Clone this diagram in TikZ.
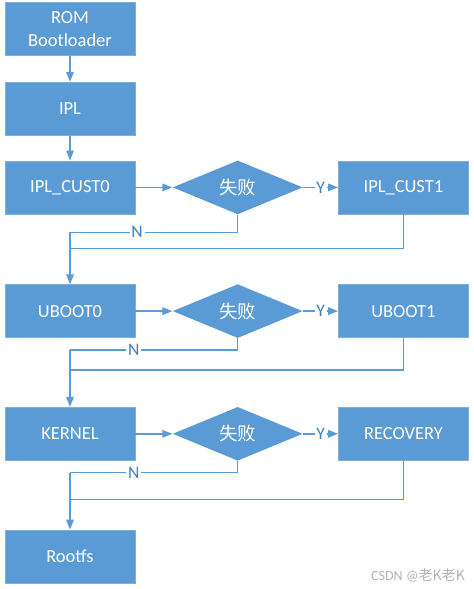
\documentclass[tikz,border=0pt]{standalone}
\usepackage{fontspec}
\setmainfont{Carlito}
\newfontfamily\cjk{Noto Sans CJK SC}
\usetikzlibrary{positioning,arrows.meta,shapes.geometric,calc}
\definecolor{boxblue}{HTML}{5B9BD5}
\definecolor{lblblue}{HTML}{3F7FBF}
\tikzset{
  blk/.style={draw=boxblue!80!white,fill=boxblue,text=white,minimum width=2.6cm,minimum height=1.06cm,align=center,inner sep=2pt,font=\fontsize{10.5}{13}\selectfont},
  dia/.style={diamond,fill=boxblue,text=white,minimum width=2.6cm,minimum height=1.04cm,inner sep=0pt,font=\cjk\fontsize{10.5}{13}\selectfont},
  line/.style={draw=boxblue,line width=0.8pt},
  arr/.style={line,-{Triangle[length=2mm,width=1.5mm]}},
  lbl/.style={fill=white,inner sep=1pt,text=lblblue,font=\fontsize{10}{12}\selectfont},
}
\begin{document}
\begin{tikzpicture}
\useasboundingbox (0,0) rectangle (9.48,-11.78);
\node[blk] (rom) at (1.4,-0.58) {ROM\\Bootloader};
\node[blk, below=5.2mm of rom] (ipl) {IPL};
\node[blk, below=5mm of ipl] (cust0) {IPL\_CUST0};
\node[dia, right=7.4mm of cust0] (fail1) {失败};
\node[blk, right=7mm of fail1] (cust1) {IPL\_CUST1};
\node[blk, below=14mm of cust0] (uboot0) {UBOOT0};
\node[dia, right=7.4mm of uboot0] (fail2) {失败};
\node[blk, right=7mm of fail2] (uboot1) {UBOOT1};
\node[blk, below=13.8mm of uboot0] (kernel) {KERNEL};
\node[dia, right=7.4mm of kernel] (fail3) {失败};
\node[blk, right=7mm of fail3] (recovery) {RECOVERY};
\node[blk, below=13.8mm of kernel] (rootfs) {Rootfs};
\node[text=gray!60, font=\fontsize{8}{9}\selectfont] (mark) at (8.36,-11.5) {CSDN @{\cjk 老K老K}};

\coordinate (n1) at ($(cust0.south)+(0,-0.36)$);
\coordinate (m1) at ($(cust0.south)+(0,-0.68)$);
\coordinate (n2) at ($(uboot0.south)+(0,-0.24)$);
\coordinate (m2) at ($(uboot0.south)+(0,-0.64)$);
\coordinate (n3) at ($(kernel.south)+(0,-0.24)$);
\coordinate (m3) at ($(kernel.south)+(0,-0.78)$);

\draw[arr] (rom) -- (ipl);
\draw[arr] (ipl) -- (cust0);

\draw[arr] (cust0) -- (fail1);
\draw[arr] (fail1) -- node[lbl] {Y} (cust1);
\draw[line] (fail1.south) |- node[lbl, pos=0.8] {N} (n1);
\draw[line] (cust1.south) |- (m1);
\draw[arr] (n1) -- (uboot0);

\draw[arr] (uboot0) -- (fail2);
\draw[arr] (fail2) -- node[lbl] {Y} (uboot1);
\draw[line] (fail2.south) |- node[lbl, pos=0.81] {N} (n2);
\draw[line] (uboot1.south) |- (m2);
\draw[arr] (n2) -- (kernel);

\draw[arr] (kernel) -- (fail3);
\draw[arr] (fail3) -- node[lbl] {Y} (recovery);
\draw[line] (fail3.south) |- node[lbl, pos=0.81] {N} (n3);
\draw[line] (recovery.south) |- (m3);
\draw[arr] (n3) -- (rootfs);
\end{tikzpicture}
\end{document}
